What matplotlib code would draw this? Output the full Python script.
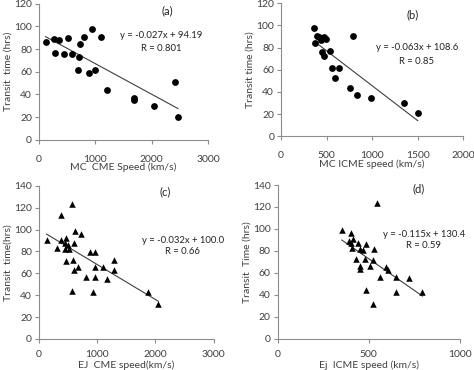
import matplotlib
matplotlib.use("Agg")
import matplotlib.pyplot as plt
import numpy as np

plt.rcParams["font.family"] = ["Lato", "DejaVu Sans"]

# (a) MC: CME speed vs transit time
mc_cme_speed = [119, 273, 362, 279, 445, 516, 587, 723, 794, 705, 694, 942,
                883, 996, 1108, 1209, 1678, 1689, 2033, 2413, 2466]
mc_cme_tt = [86.3, 88.7, 87.8, 76.6, 75.7, 89.6, 75.7, 84.5, 90.4, 72.7, 61.5,
             97.8, 58.8, 61.5, 90.4, 43.7, 34.9, 36.9, 29.6, 50.8, 20.4]

# (b) MC: ICME speed vs transit time
mc_icme_speed = [366, 392, 377, 421, 436, 473, 495, 447, 476, 535, 560, 637,
                 597, 795, 755, 839, 993, 1352, 1502]
mc_icme_tt = [97.6, 90.4, 84.6, 89.8, 86.8, 89.8, 87.7, 75.6, 72.6, 77.1, 61.7,
              61.7, 52.9, 90.7, 43.8, 36.9, 34.8, 29.6, 20.6]

# (c) EJ: CME speed vs transit time
ej_cme_speed = [131, 382, 570, 314, 377, 445, 473, 502, 451, 525, 473, 599,
                622, 730, 673, 599, 593, 570, 816, 873, 970, 970, 958, 924,
                1107, 1175, 1283, 1295, 1865, 2048]
ej_cme_tt = [90.7, 113.3, 123.4, 82.7, 90.1, 87.3, 92.5, 85.8, 82.1, 82.1, 70.8,
             87.3, 98.6, 96.2, 66.0, 62.9, 71.8, 44.0, 56.2, 79.7, 79.7, 65.3,
             56.2, 43.1, 65.6, 55.0, 71.8, 62.6, 42.7, 32.1]

# (d) EJ: ICME speed vs transit time
ej_icme_speed = [352, 403, 392, 414, 410, 403, 441, 451, 430, 452, 452, 469,
                 478, 484, 484, 504, 522, 531, 522, 544, 564, 593, 606, 648,
                 652, 723, 795]
ej_icme_tt = [98.8, 96.7, 89.1, 90.9, 83.0, 86.9, 87.5, 81.8, 72.3, 66.3, 63.2,
              80.5, 72.6, 86.6, 44.1, 66.3, 71.4, 82.1, 32.2, 123.4, 55.9, 65.0,
              62.3, 55.9, 42.9, 55.0, 42.9]

panels = [
    dict(rect=[0.082, 0.622, 0.357, 0.368], x=mc_cme_speed, y=mc_cme_tt, m="o",
         fit=(-0.027, 94.19), eq="y = -0.027x + 94.19", r="R = 0.801",
         xlim=3000, xstep=1000, ylim=120, tag="(a)", tagpos=(2272, 114),
         eqpos=(2166, 91.8, 80.3), xpad=8, lpad=-1,
         xlabel="MC  CME Speed (km/s)", ylabel="Transit  time (hrs)"),
    dict(rect=[0.593, 0.632, 0.384, 0.359], x=mc_icme_speed, y=mc_icme_tt, m="o",
         fit=(-0.063, 108.6), eq="y = -0.063x + 108.6", r="R = 0.85",
         xlim=2000, xstep=500, ylim=120, tag="(b)", tagpos=(1443, 110),
         eqpos=(1491, 79.8, 67.7), xpad=8, lpad=-1,
         xlabel="MC ICME speed (km/s)", ylabel="Transit time (hrs)"),
    dict(rect=[0.082, 0.084, 0.369, 0.414], x=ej_cme_speed, y=ej_cme_tt, m="^",
         fit=(-0.032, 100.0), eq="y = -0.032x + 100.0", r="R = 0.66",
         xlim=3000, xstep=1000, ylim=140, tag="(c)", tagpos=(2168, 134.5),
         eqpos=(2470, 90.4, 80.3), xpad=5, lpad=1,
         xlabel="EJ  CME speed(km/s)", ylabel="Transit  time(hrs)"),
    dict(rect=[0.586, 0.084, 0.384, 0.416], x=ej_icme_speed, y=ej_icme_tt, m="^",
         fit=(-0.115, 130.4), eq="y = -0.115x + 130.4", r="R = 0.59",
         xlim=1000, xstep=500, ylim=140, tag="(d)", tagpos=(775, 136.5),
         eqpos=(802, 95.1, 84.8), xpad=5, lpad=1,
         xlabel="Ej  ICME speed (km/s)", ylabel="Transit  Time (hrs)"),
]

fig = plt.figure(figsize=(4.74, 3.70), dpi=100)

for p in panels:
    ax = fig.add_axes(p["rect"])
    ax.scatter(p["x"], p["y"], marker=p["m"], s=24 if p["m"] == "o" else 22,
               color="black", zorder=3, linewidths=0)
    xs = np.array([min(p["x"]), max(p["x"])])
    ax.plot(xs, p["fit"][0] * xs + p["fit"][1], color="#404040", lw=0.8)

    ax.set_xlim(0, p["xlim"])
    ax.set_ylim(0, p["ylim"])
    ax.set_xticks(np.arange(0, p["xlim"] + 1, p["xstep"]))
    ax.set_yticks(np.arange(0, p["ylim"] + 1, 20))
    for s in ["top", "right"]:
        ax.spines[s].set_visible(False)
    for s in ["left", "bottom"]:
        ax.spines[s].set_color("#8c8c8c")
        ax.spines[s].set_linewidth(0.8)
    ax.tick_params(direction="out", length=3, width=0.8, color="#8c8c8c",
                   labelsize=7.5, labelcolor="#404040")
    ax.tick_params(axis="x", pad=p["xpad"])
    ax.tick_params(axis="y", pad=2)
    ax.set_xlabel(p["xlabel"], fontsize=7.5, color="#404040", labelpad=p["lpad"])
    ax.set_ylabel(p["ylabel"], fontsize=7.5, color="#404040", labelpad=1)

    ax.text(*p["tagpos"], p["tag"], fontsize=8, ha="center", va="center",
            color="#222222")
    ex, ey1, ey2 = p["eqpos"]
    ax.text(ex, ey1, p["eq"], fontsize=6.8, ha="center", va="center", color="#222222")
    ax.text(ex, ey2, p["r"], fontsize=6.8, ha="center", va="center", color="#222222")

plt.savefig("out.png", dpi=100)
plt.close()
